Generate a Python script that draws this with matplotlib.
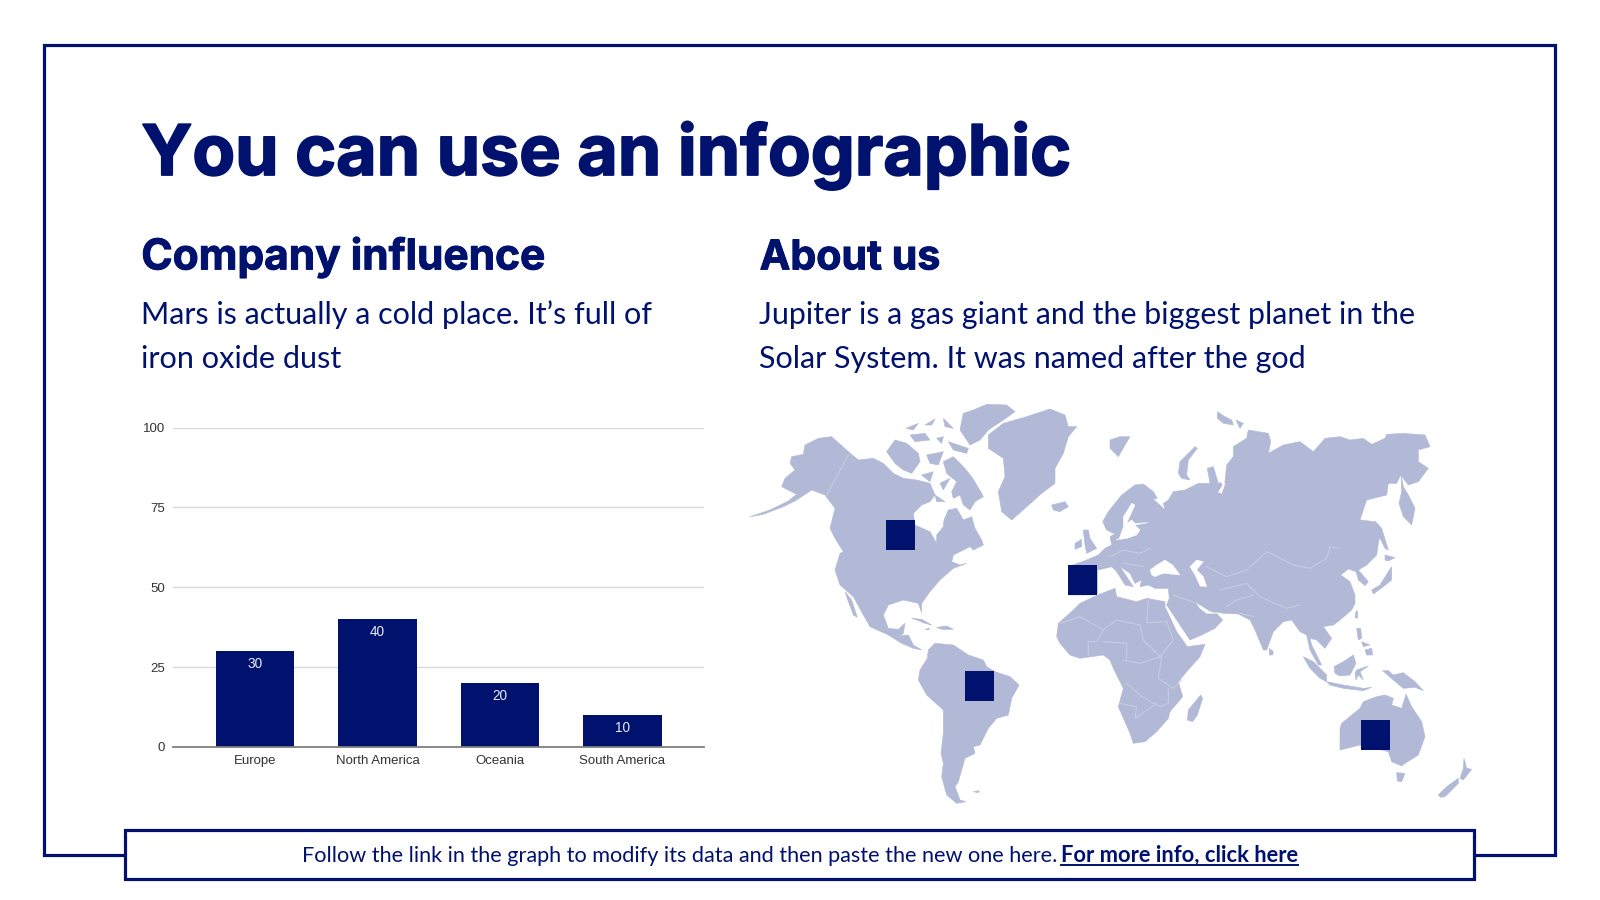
import matplotlib
matplotlib.use("Agg")
import matplotlib.pyplot as plt
import matplotlib.patheffects as pe
from matplotlib.patches import Rectangle, Polygon

NAVY = "#00126E"
MAPC = "#B1B9D6"
TITLE_FONT = "Inter"

categories = ["Europe", "North America", "Oceania", "South America"]
values = [30, 40, 20, 10]
yticks = [0, 25, 50, 75, 100]

A, B, C, D, E, F = (740, 395), (1110, 395), (840, 600), (1110, 600), (1040, 480), (820, 520)


def tr(o, pts):
    return [(o[0] + x / 3, o[1] + y / 3) for x, y in pts]


north_america = (
    tr(A, [(30,365),(90,345),(145,318),(170,298),(125,275),(135,250),(165,225),(150,205),(155,185),(190,178),(195,150),(235,130),(275,125),(325,170),(355,195),(400,190),(430,205),(460,235),(490,250),(530,255),(570,265),(585,300),(570,320),(545,330),(520,355),(525,390),(570,410),(590,445),(590,420),(610,395),(612,375),(625,345),(650,340),(670,375),(695,365),(705,400),(725,435),(730,450),(700,465),(690,455),(670,465),(640,480),(635,500),(660,510),(680,505),(640,520),(600,555),(570,590),(545,625)])
    + tr(F, [(305,278),(295,250),(250,240),(205,255),(190,285),(205,325),(235,328),(255,310),(250,340),(240,348),(265,345),(280,375),(305,390),(280,385),(245,370),(205,345),(150,320),(130,285),(100,230),(60,195),(45,150),(60,100)])
    + tr(A, [(310,470),(285,430),(270,400),(285,340),(255,300),(215,285),(200,295),(165,318),(130,335),(70,358)])
)
baja = tr(F, [(75,215),(95,240),(112,292),(100,285),(85,245)])
south_america = tr(C, [(235,240),(240,210),(262,175),(265,150),(285,130),(340,135),(385,165),(430,180),(440,200),(465,215),(510,230),(537,255),(515,295),(505,345),(470,355),(445,385),(420,435),(400,440),(405,460),(375,475),(365,510),(355,545),(345,560),(360,600),(378,605),(350,610),(320,585),(305,530),(310,490),(303,460),(310,400),(310,330),(260,285)])
greenland = tr(A, [(745,120),(790,85),(860,65),(930,42),(975,60),(985,95),(1010,95),(985,125),(970,175),(945,220),(945,265),(905,295),(855,340),(815,375),(785,350),(775,290),(795,245),(790,190),(745,160)])
eurasia = (
    tr(E, [(160,345),(85,345),(85,260),(140,240),(175,225),(195,205),(215,195),(210,170),(225,162),(200,150),(188,125),(205,95),(245,45),(285,15),(310,12),(340,35),(352,55)])
    + tr(B, [(130,312),(165,345),(160,325),(175,315),(190,290),(225,285),(265,265),(300,265),(292,220),(310,215),(325,265),(345,260),(350,210),(370,185),(370,155),(410,130),(415,105),(475,115),(482,140),(475,175),(520,150),(570,140),(610,170),(645,130),(690,125),(720,135),(760,130),(785,148),(825,130),(830,118),(880,115),(945,120),(960,155),(925,165),(925,200),(955,220),(925,260),(895,270),(872,240),(860,265),(835,265),(830,300),(770,315),(750,375),(795,380),(810,420),(805,445),(800,480),(770,510),(745,525),(775,560),(765,572),(745,555),(738,530),(715,522),(692,540),(720,560),(735,600),(735,625)])
    + tr(D, [(725,30),(690,60),(670,75),(640,80),(665,115),(645,145),(620,120),(600,115),(605,135),(635,195),(625,195),(600,150),(590,105),(570,95),(545,60),(520,65),(490,95),(470,150),(460,150),(435,90),(420,60),(385,42),(340,40),(315,35),(338,60),(315,85),(275,105),(240,120),(210,75),(170,15)])
    + tr(E, [(388,355),(385,325),(345,325),(325,315),(300,320),(305,300),(285,310),(270,280),(240,260),(280,320),(255,315),(230,275),(215,260),(195,265),(173,270),(173,340)])
)
africa = (
    tr(E, [(120,370),(173,345),(225,325),(230,350),(290,365),(320,355),(375,365)])
    + tr(D, [(165,20),(200,95),(232,140),(285,133),(270,170),(230,215),(205,245),(218,290),(180,335),(175,355),(140,395),(105,425),(70,430),(60,400),(25,320),(40,265),(10,205),(0,180)])
    + tr(C, [(790,165),(720,175),(690,165),(660,130),(650,110),(655,70),(700,30)])
)
australia = tr(D, [(690,385),(695,370),(750,325),(760,305),(800,290),(825,285),(850,295),(845,315),(875,325),(888,282),(905,320),(935,365),(945,410),(925,465),(885,490),(875,498),(845,485),(835,455),(815,450),(750,435),(710,445),(690,450),(690,420)])
islands = [
    tr(A, p) for p in [
        [(610,200),(640,185),(670,215),(695,245),(725,295),(730,305),(705,320),(690,345),(670,330),(660,300),(640,310),(635,290),(650,260),(620,235)],
        [(440,170),(465,135),(500,145),(535,175),(540,200),(515,235),(490,225),(465,205)],
        [(700,45),(740,28),(800,30),(825,50),(790,75),(745,105),(720,135),(690,150),(660,105),(670,55)],
        [(498,100),(535,85),(520,105)],
        [(510,120),(555,115),(570,135),(525,140)],
        [(555,90),(585,72),(575,90)],
        [(610,70),(640,100),(615,95)],
        [(590,130),(610,125),(605,145)],
        [(625,140),(685,160),(680,175),(640,165)],
        [(560,180),(610,170),(595,210),(570,205)],
        [(545,240),(580,230),(570,260)],
        [(600,265),(630,250),(610,285)],
        [(585,300),(615,320),(590,320)],
        [(935,330),(975,320),(985,335),(960,350),(940,345)],
    ]
] + [
    tr(E, p) for p in [
        [(130,150),(145,150),(150,175),(170,205),(140,220),(135,195)],
        [(105,190),(125,178),(125,200),(105,208)],
    ]
] + [
    tr(C, p) for p in [
        [(215,55),(245,58),(275,75),(255,70),(230,60)],
        [(290,82),(320,78),(340,88),(305,88)],
        [(255,88),(270,85),(265,90)],
        [(400,575),(418,572),(415,578)],
    ]
] + [
    tr(D, p) for p in [
        [(272,285),(278,295),(262,345),(248,365),(232,360),(235,330)],
        [(478,145),(490,155),(488,165),(478,165)],
        [(580,170),(610,185),(650,225),(650,245),(630,235),(600,205)],
        [(650,245),(700,255),(760,265),(785,262),(760,272),(700,265),(660,255)],
        [(672,200),(700,185),(730,165),(738,190),(720,225),(690,228),(675,220)],
        [(740,210),(775,198),(750,215),(760,240),(745,225),(738,240),(735,220)],
        [(818,212),(835,212),(850,225),(880,218),(915,245),(940,272),(915,262),(880,265),(850,240)],
        [(740,85),(752,85),(755,115),(745,120)],
        [(765,150),(785,145),(788,165),(770,165)],
        [(755,125),(780,135),(760,140)],
        [(738,35),(743,32),(742,55),(735,52)],
        [(860,518),(885,520),(875,545),(862,543)],
        [(985,585),(1010,560),(1045,535),(1045,550),(1005,590),(992,592)],
        [(1050,535),(1060,505),(1062,475),(1070,505),(1085,508),(1060,540)],
    ]
] + [
    tr(B, p) for p in [
        [(785,585),(810,570),(835,530),(845,515),(845,555),(820,575),(790,597)],
        [(825,480),(855,488),(835,498),(825,495)],
        [(795,378),(815,400),(835,465),(825,460),(805,420)],
        [(873,240),(880,275),(895,300),(915,340),(905,390),(880,365),(867,325),(875,290)],
        [(255,155),(262,160),(235,195),(230,240),(240,255),(215,250),(205,235),(210,200)],
        [(322,50),(345,65),(365,75),(370,90),(340,85),(322,70)],
        [(378,75),(400,85),(390,100)],
        [(0,135),(30,125),(60,125),(45,150),(25,185),(10,170),(0,160)],
    ]
]
waters = [
    tr(E, p) for p in [
        [(335,285),(330,270),(350,255),(375,240),(398,255),(420,285),(370,280),(345,290)],
        [(450,260),(470,240),(490,245),(470,270),(490,290),(500,320),(480,318),(465,285)],
        [(228,180),(262,175),(290,165),(300,150),(285,135),(325,128),(285,130),(275,120),(260,130),(285,75),(275,70),(250,110),(250,140),(238,175)],
        [(470,370),(510,395),(530,400),(500,400),(480,385)],
    ]
] + [tr(B, [(320,225),(345,265),(335,295),(325,292),(338,270)])]
borders = [tr(E, p) for p in [
    [(500,260),(560,290),(620,270),(680,215)],
    [(540,330),(620,310),(660,350),(740,385),(780,375)],
    [(560,380),(590,360),(640,345)],
    [(600,400),(640,410)],
    [(210,230),(250,210),(300,220),(330,205)],
    [(250,250),(310,260)],
    [(400,345),(470,370)],
]] + [tr(B, [(470,470),(510,490),(550,510),(600,520),(650,490),(660,455),(685,460)])] + [
    tr(A, [(325,180),(260,300)])
] + [tr(C, p) for p in [
    [(660,70),(720,50),(790,90),(770,125),(745,125),(745,165)],
    [(790,90),(830,60),(900,75),(910,120),(960,170),(1000,120),(980,65),(920,68),(925,0)],
    [(850,180),(900,190),(965,170),(955,235),(1000,265),(1025,240)],
    [(860,250),(905,290),(960,320),(985,310),(985,265)],
    [(840,310),(890,320),(885,355),(950,310)],
    [(790,125),(860,130),(860,180)],
]]
markers = [(882.4, 524.3), (1061, 568), (960, 672), (1348, 720)]

W, H = 1568, 882
fig = plt.figure(figsize=(16, 9), dpi=100, facecolor="white")

page = fig.add_axes([0, 0, 1, 1], zorder=3)
page.set_xlim(0, W)
page.set_ylim(H, 0)
page.axis("off")
page.patch.set_alpha(0)

page.add_patch(Rectangle((43.5, 44), 1480.5, 794, fill=False, ec=NAVY, lw=2.3))
page.add_patch(Rectangle((122.5, 813.5), 1322.5, 48, fc="white", ec=NAVY, lw=2.3, zorder=3))


def fit_text(x, y, s, right, family, weight="normal", size=20, stroke=0):
    t = page.text(x, y, s, family=family, fontweight=weight, fontsize=size,
                  color=NAVY, va="baseline", ha="left", zorder=4)
    r = fig.canvas.get_renderer()
    w = t.get_window_extent(r).width
    t.set_fontsize(size * (right - x) * fig.bbox.width / W / w)
    if stroke:
        t.set_path_effects([pe.withStroke(linewidth=stroke, foreground=NAVY)])
    return t


fit_text(138.5, 171.5, "You can use an infographic", 1052, TITLE_FONT, "bold", stroke=1.3)
fit_text(138.5, 264, "Company influence", 535, TITLE_FONT, "bold", stroke=0.7)
fit_text(744.5, 264, "About us", 922, TITLE_FONT, "bold", stroke=0.7)
fit_text(138, 318, "Mars is actually a cold place. It\u2019s full of", 639, "Lato")
fit_text(138, 361, "iron oxide dust", 335, "Lato")
fit_text(744, 318, "Jupiter is a gas giant and the biggest planet in the", 1390, "Lato")
fit_text(744, 361, "Solar System. It was named after the god", 1280, "Lato")
fit_text(296, 844.5, "Follow the link in the graph to modify its data and then paste the new one here.", 1036, "Lato")
fit_text(1040, 844.5, "For more info, click here", 1272, "Lato", "bold")
page.plot([1040, 1272], [848, 848], color=NAVY, lw=1.4, zorder=4)

# chart
L, R, T, B_ = 170, 690, 419, 732
ax = fig.add_axes([L / W, 1 - B_ / H, (R - L) / W, (B_ - T) / H], zorder=1)
ax.patch.set_alpha(0)
x = range(len(categories))
ax.set_xlim(-0.667, 3.667)
ax.set_ylim(0, 100)
ax.set_yticks(yticks)
ax.yaxis.grid(True, color="#D9D9D9", lw=1)
ax.set_axisbelow(True)
bars = ax.bar(x, values, width=0.64, color=NAVY)
for s in ("top", "right", "left"):
    ax.spines[s].set_visible(False)
ax.spines["bottom"].set_color("#7F7F7F")
ax.spines["bottom"].set_linewidth(1.3)
ax.set_xticks(list(x))
ax.set_xticklabels(categories)
ax.tick_params(axis="both", length=0, labelsize=9.55, labelcolor="#333333",
               labelfontfamily="Liberation Sans")
ax.tick_params(axis="x", pad=6)
ax.tick_params(axis="y", pad=6)
for rect, v in zip(bars, values):
    ax.annotate(str(v), (rect.get_x() + rect.get_width() / 2, v), xytext=(0, -4.2),
                textcoords="offset points", ha="center", va="top", color="#E8ECF8",
                fontsize=9.8, family="Liberation Sans")

# map
mp = fig.add_axes([0, 0, 1, 1], zorder=2)
mp.set_xlim(0, 1600)
mp.set_ylim(900, 0)
mp.axis("off")
mp.patch.set_alpha(0)
for poly in [north_america, baja, south_america, greenland, eurasia, africa, australia] + islands:
    mp.add_patch(Polygon(poly, closed=True, fc=MAPC, ec=MAPC, lw=0.4))
for poly in waters:
    mp.add_patch(Polygon(poly, closed=True, fc="white", ec="white", lw=0.3))
for line in borders:
    xs, ys = zip(*line)
    mp.plot(xs, ys, color="#C8CEE3", lw=0.7)

for cx, cy in markers:
    page.add_patch(Rectangle((cx - 14.5, cy - 14.7), 29, 29.4, fc=NAVY, ec="none", zorder=5))

fig.savefig("out.png", dpi=100, facecolor="white")
